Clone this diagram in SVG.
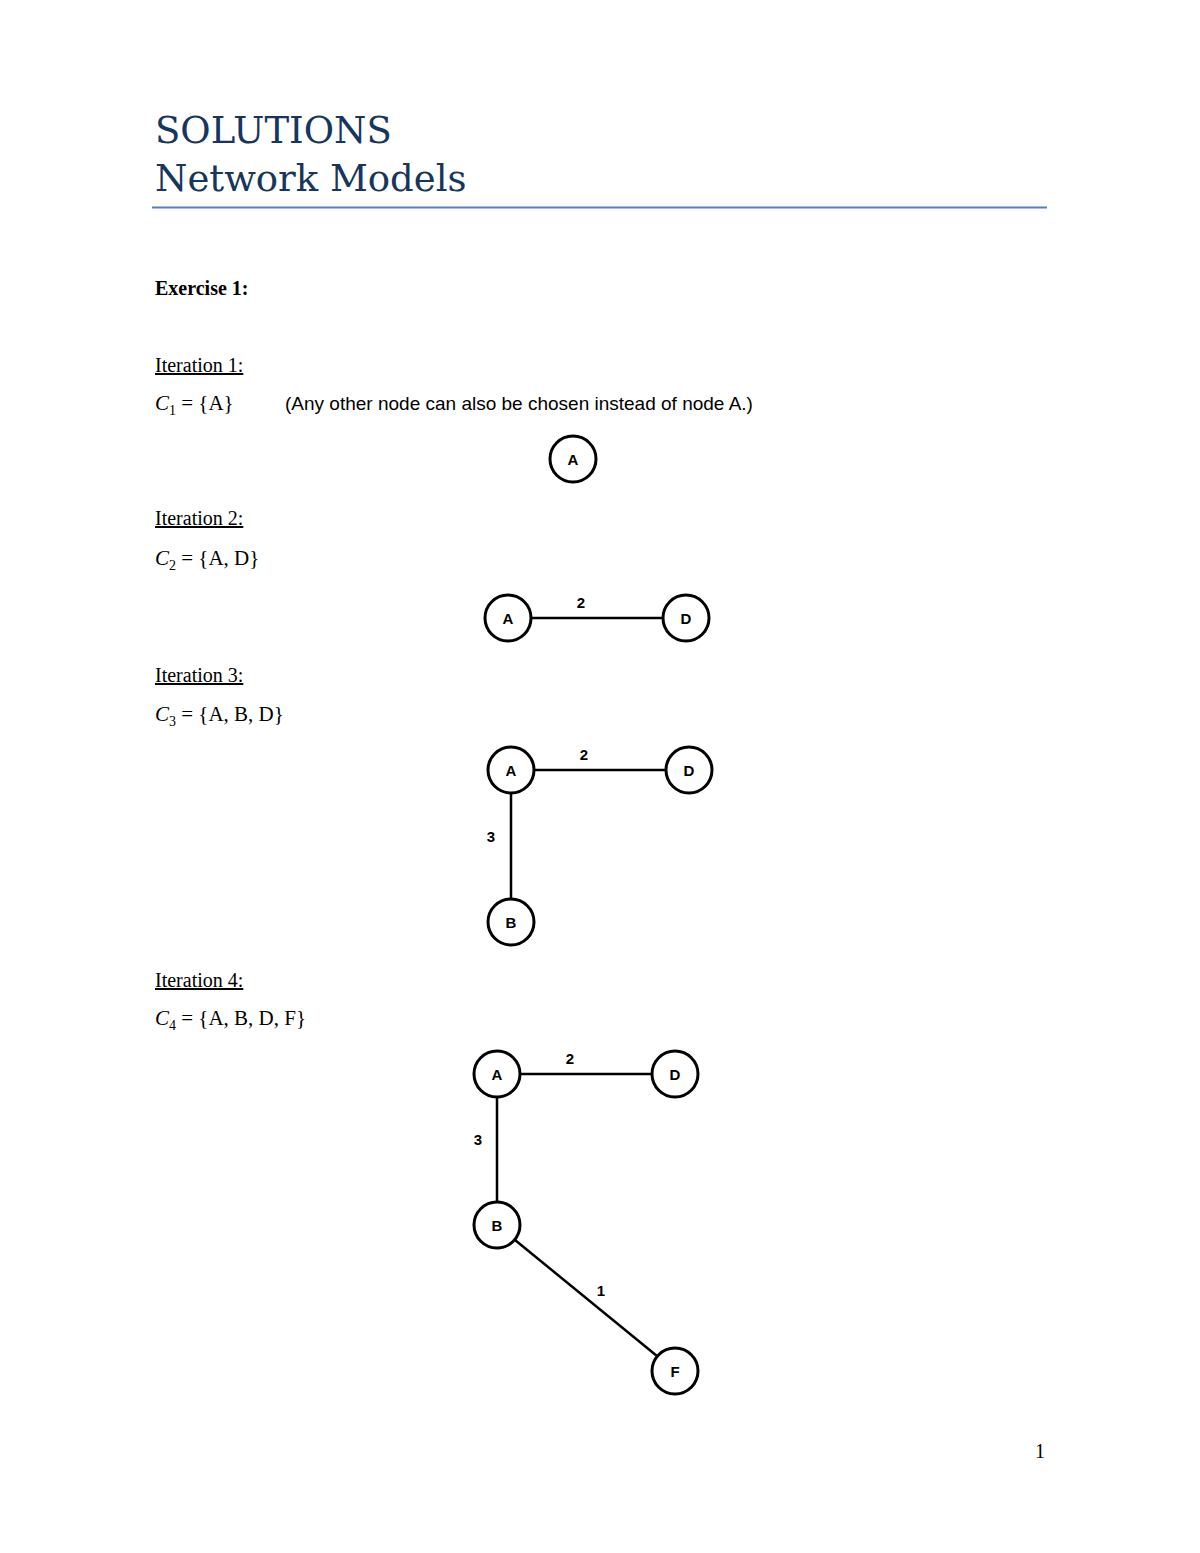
<svg xmlns="http://www.w3.org/2000/svg" width="1200" height="1553" viewBox="0 0 1200 1553">
<style>
.title{font-family:"DejaVu Serif","Liberation Serif",serif;font-size:37px;fill:#17365D}
.body{font-family:"Liberation Serif",serif;font-size:20px;fill:#000}
.sans{font-family:"Liberation Sans",sans-serif;font-size:19px;fill:#000}
.math{font-family:"Liberation Serif",serif;font-size:21px;fill:#000}
.node circle{fill:#fff;stroke:#000;stroke-width:3}
.node text{font-family:"Liberation Sans",sans-serif;font-weight:bold;font-size:15px;text-anchor:middle}
.edges line{stroke:#000;stroke-width:2.5}
.lbl{font-family:"Liberation Sans",sans-serif;font-weight:bold;font-size:15px;text-anchor:middle}
</style>
<rect width="1200" height="1553" fill="#fff"/>
<text class="title" x="155" y="143">SOLUTIONS</text>
<text class="title" x="155" y="191">Network Models</text>
<line x1="152" y1="207.5" x2="1047" y2="207.5" stroke="#4F81BD" stroke-width="2"/>
<text class="body" x="155" y="295" font-weight="bold">Exercise 1:</text>

<text class="body" x="155" y="372" text-decoration="underline">Iteration 1:</text>
<text class="math" x="155" y="410"><tspan font-style="italic">C</tspan><tspan font-size="14" dy="5">1</tspan><tspan dy="-5"> = {A}</tspan></text>
<text class="sans" x="285" y="410">(Any other node can also be chosen instead of node A.)</text>
<g id="n1A" class="node"><circle cx="573" cy="459" r="23"/><text x="573" y="465">A</text></g>

<text class="body" x="155" y="525" text-decoration="underline">Iteration 2:</text>
<text class="math" x="155" y="565"><tspan font-style="italic">C</tspan><tspan font-size="14" dy="5">2</tspan><tspan dy="-5"> = {A, D}</tspan></text>
<g class="edges"><line x1="531" y1="618" x2="663" y2="618"/></g>
<text class="lbl" x="581" y="608">2</text>
<g id="n2A" class="node"><circle cx="508" cy="618" r="23"/><text x="508" y="624">A</text></g>
<g id="n2D" class="node"><circle cx="686" cy="618" r="23"/><text x="686" y="624">D</text></g>

<text class="body" x="155" y="682" text-decoration="underline">Iteration 3:</text>
<text class="math" x="155" y="721"><tspan font-style="italic">C</tspan><tspan font-size="14" dy="5">3</tspan><tspan dy="-5"> = {A, B, D}</tspan></text>
<g class="edges"><line x1="534" y1="770" x2="666" y2="770"/><line x1="511" y1="793" x2="511" y2="899"/></g>
<text class="lbl" x="584" y="760">2</text>
<text class="lbl" x="491" y="842">3</text>
<g id="n3A" class="node"><circle cx="511" cy="770" r="23"/><text x="511" y="776">A</text></g>
<g id="n3D" class="node"><circle cx="689" cy="770" r="23"/><text x="689" y="776">D</text></g>
<g id="n3B" class="node"><circle cx="511" cy="922" r="23"/><text x="511" y="928">B</text></g>

<text class="body" x="155" y="987" text-decoration="underline">Iteration 4:</text>
<text class="math" x="155" y="1025"><tspan font-style="italic">C</tspan><tspan font-size="14" dy="5">4</tspan><tspan dy="-5"> = {A, B, D, F}</tspan></text>
<g class="edges"><line x1="520" y1="1074" x2="652" y2="1074"/><line x1="497" y1="1097" x2="497" y2="1202"/><line x1="515" y1="1240" x2="657" y2="1356"/></g>
<text class="lbl" x="570" y="1064">2</text>
<text class="lbl" x="478" y="1145">3</text>
<text class="lbl" x="601" y="1296">1</text>
<g id="n4A" class="node"><circle cx="497" cy="1074" r="23"/><text x="497" y="1080">A</text></g>
<g id="n4D" class="node"><circle cx="675" cy="1074" r="23"/><text x="675" y="1080">D</text></g>
<g id="n4B" class="node"><circle cx="497" cy="1225" r="23"/><text x="497" y="1231">B</text></g>
<g id="n4F" class="node"><circle cx="675" cy="1371" r="23"/><text x="675" y="1377">F</text></g>

<text class="body" x="1035" y="1458" font-size="18">1</text>
</svg>
